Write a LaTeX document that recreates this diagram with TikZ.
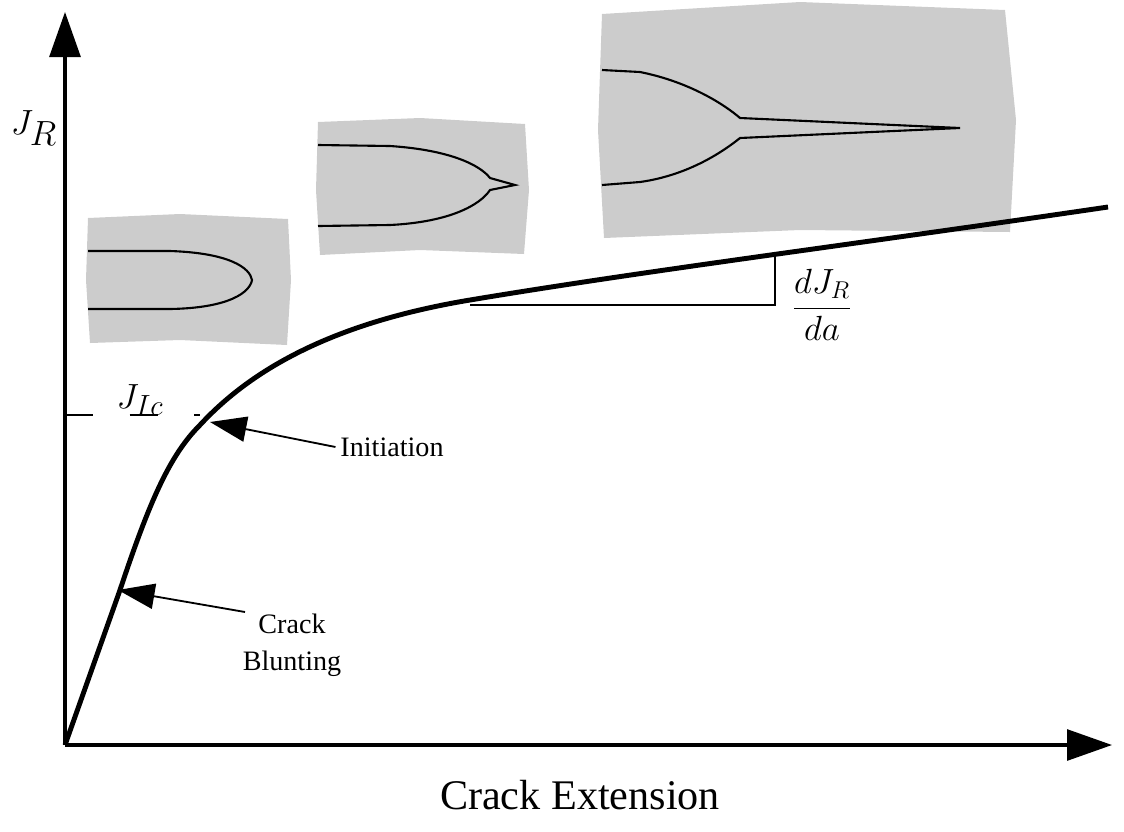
\documentclass[tikz,border=0pt]{standalone}
\usepackage{fontspec}
\setmainfont{Liberation Serif}
\usetikzlibrary{arrows.meta}
\begin{document}
\begin{tikzpicture}[x=0.025cm,y=-0.025cm,
  blob/.style={fill=black!20,draw=none},
  crack/.style={line width=1.5pt},
  lead/.style={line width=1.3pt,-{Triangle[length=26pt,width=18pt]}},
  axis/.style={line width=2.2pt,-{Triangle[length=32pt,width=22pt]}}]
\useasboundingbox (0,0) rectangle (1124,831);
\coordinate (O) at (65,745);
\coordinate (Ytop) at (65,12);
\coordinate (Xend) at (1112,745);
\draw[axis] (O) -- (Ytop);
\draw[axis] (O) -- (Xend);
% blobs
\fill[blob] (88,218) -- (180,214) -- (288,219) -- (291,280) -- (287,345) -- (180,340) -- (90,343) -- (86,280) -- cycle;
\draw[crack] (88,251) -- (170,251) .. controls (230,253) and (250,268) .. (252,280) .. controls (250,292) and (230,308) .. (170,309) -- (88,309);
\fill[blob] (318,122) -- (420,118) -- (525,124) -- (529,190) -- (524,254) -- (420,250) -- (320,255) -- (316,190) -- cycle;
\draw[crack] (318,145) -- (390,146) .. controls (450,150) and (480,165) .. (490,178) -- (515,185) -- (490,190) .. controls (480,205) and (450,222) .. (390,225) -- (318,226);
\fill[blob] (602,14) -- (800,2) -- (1005,10) -- (1016,120) -- (1010,232) -- (800,230) -- (604,238) -- (598,130) -- cycle;
\draw[crack] (602,70) -- (640,72) .. controls (690,82) and (725,105) .. (740,118) -- (960,128) -- (740,138) .. controls (725,150) and (690,175) .. (640,182) -- (602,185);
% curve
\draw[line width=3.5pt] (O) -- (120,590) .. controls (150,500) and (170,455) .. (200,425)
  .. controls (260,360) and (350,320) .. (470,300) .. controls (650,270) and (850,245) .. (1108,207);
% tangent triangle
\coordinate (T1) at (470,305); \coordinate (T2) at (775,305); \coordinate (T3) at (775,255);
\draw[line width=1.3pt] (T1) -- (T2) -- (T3);
\node (dj) at (822,305) {\fontsize{26}{30}\selectfont$\displaystyle\frac{dJ_R}{da}$};
% JIc
\coordinate (Jd) at (200,415);
\draw[line width=1.5pt,dash pattern=on 20pt off 26pt] (O |- Jd) -- (Jd);
\node (jic) at (140,400) {\fontsize{32}{36}\selectfont$J_{Ic}$};
\node (jr) at (34,128) {\fontsize{34}{38}\selectfont$J_R$};
% labels
\node (init) at (392,447) {\fontsize{20}{24}\selectfont Initiation};
\coordinate (initTip) at (210,422);
\draw[lead] (init.west) -- (initTip);
\node[align=center,font=\fontsize{20}{26}\selectfont] (blunt) at (292,645) {Crack\\Blunting};
\coordinate (bluntTip) at (118,590);
\draw[lead] (245,612) -- (bluntTip);
\node (xl) at (580,795) {\fontsize{30}{34}\selectfont Crack Extension};
\end{tikzpicture}
\end{document}
